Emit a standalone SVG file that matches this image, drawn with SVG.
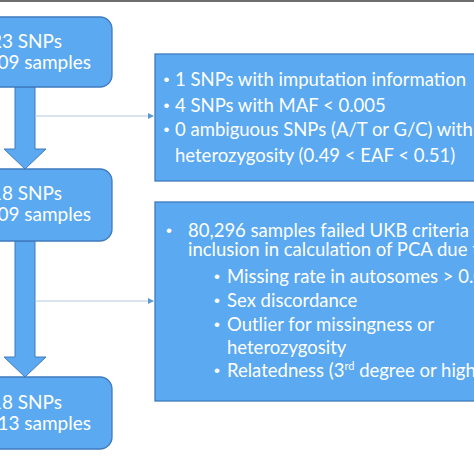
<svg xmlns="http://www.w3.org/2000/svg" width="474" height="474" viewBox="0 0 474 474">
<style>
.box{fill:#5aa9f1;stroke:#3f7bbd;stroke-width:1.3}
.arr{fill:#5aa9f1;stroke:#3f7bbd;stroke-width:1}
.t{font-family:Lato,"Liberation Sans",sans-serif;font-size:19px;fill:#ffffff}
.r{font-family:Lato,"Liberation Sans",sans-serif;font-size:18.5px;fill:#ffffff}
.b{font-family:"Liberation Sans",sans-serif;font-size:17px;fill:#ffffff;text-anchor:middle}
.con{stroke:#b3c9de;stroke-width:1.2;fill:none}
</style>
<defs>
<marker id="ah" markerWidth="6" markerHeight="6" refX="5" refY="3" orient="auto" markerUnits="userSpaceOnUse">
<path d="M0,0 L6,3 L0,6 Z" fill="#5a9ad6"/>
</marker>
</defs>
<rect x="0" y="0" width="474" height="2" fill="#6e6e6e"/>
<g id="connectors">
<polygon class="arr" points="15,87 35,87 35,149 46,149 25,169 4,149 15,149"/>
<polygon class="arr" points="15,241 35,241 35,357 46,357 25,377 4,357 15,357"/>
<line class="con" x1="35" y1="116" x2="153" y2="116" marker-end="url(#ah)"/>
<line class="con" x1="35" y1="301" x2="153" y2="301" marker-end="url(#ah)"/>
</g>
<g id="node1">
<rect class="box" x="-20" y="17" width="132" height="70" rx="12"/>
<text class="t" x="62" y="48" text-anchor="end">23 SNPs</text>
<text class="t" x="91" y="69" text-anchor="end">409 samples</text>
</g>
<g id="node2">
<rect class="box" x="-20" y="169" width="132" height="72" rx="12"/>
<text class="t" x="62" y="200" text-anchor="end">18 SNPs</text>
<text class="t" x="91" y="221" text-anchor="end">409 samples</text>
</g>
<g id="node3">
<rect class="box" x="-20" y="377" width="132" height="72" rx="12"/>
<text class="t" x="62" y="409" text-anchor="end">18 SNPs</text>
<text class="t" x="91" y="430" text-anchor="end">113 samples</text>
</g>
<g id="snpfilter">
<rect class="box" x="155" y="54" width="330" height="127"/>
<text class="b" x="166.5" y="85">•</text><text class="r" x="175" y="86">1 SNPs with imputation information</text>
<text class="b" x="166.5" y="110.5">•</text><text class="r" x="175" y="111.5">4 SNPs with MAF &lt; 0.005</text>
<text class="b" x="166.5" y="135">•</text><text class="r" x="175" y="136">0 ambiguous SNPs (A/T or G/C) with</text>
<text class="r" x="175" y="161.5">heterozygosity (0.49 &lt; EAF &lt; 0.51)</text>
</g>
<g id="samplefilter">
<rect class="box" x="155" y="202" width="330" height="199"/>
<text class="b" x="169" y="236">•</text><text class="r" x="188" y="237">80,296 samples failed UKB criteria for</text>
<text class="r" x="188" y="256">inclusion in calculation of PCA due to</text>
<text class="b" x="217" y="282.3">•</text><text class="r" x="227" y="283.3">Missing rate in autosomes &gt; 0.02</text>
<text class="b" x="217" y="306.3">•</text><text class="r" x="227" y="307.3">Sex discordance</text>
<text class="b" x="217" y="329.7">•</text><text class="r" x="227" y="330.7">Outlier for missingness or</text>
<text class="r" x="227" y="354">heterozygosity</text>
<text class="b" x="217" y="376.3">•</text><text class="r" x="227" y="377.3">Relatedness (3<tspan font-size="11" dy="-7">rd</tspan><tspan dy="7"> degree or higher)</tspan></text>
</g>
</svg>
